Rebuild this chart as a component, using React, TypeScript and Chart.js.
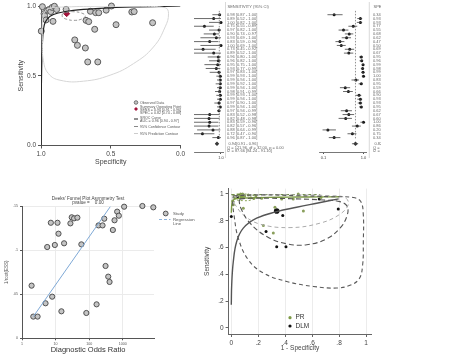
import React, { useEffect, useRef } from "react";
import { Chart, registerables } from "chart.js";
Chart.register(...registerables);

const FONT = "'Liberation Sans', Arial, Helvetica, sans-serif";

// ---------- Panel A : SROC with observed data ----------
const obsSpec = [0.998, 0.99, 0.978, 0.974, 0.964, 0.952, 0.94, 0.93, 0.92, 0.904, 0.888, 0.914, 0.82, 0.646, 0.608, 0.586, 0.533, 0.495, 0.677, 0.658, 0.615, 0.462, 0.349, 0.332, 0.2, 0.758, 0.739, 0.682, 0.665, 0.593];
const obsSens = [0.82, 0.995, 0.945, 0.93, 0.9, 0.97, 0.975, 0.96, 0.99, 0.998, 0.975, 0.89, 0.976, 0.962, 0.952, 0.952, 0.97, 1.0, 0.897, 0.888, 0.833, 0.866, 0.957, 0.96, 0.88, 0.757, 0.718, 0.699, 0.599, 0.599];
const summarySpec = [0.816];
const summarySens = [0.945];
const srocSpec = [1.0, 0.998, 0.995, 0.99, 0.983, 0.969, 0.935, 0.876, 0.768, 0.577, 0.337, 0.0];
const srocSens = [0.0, 0.325, 0.563, 0.73, 0.826, 0.885, 0.926, 0.95, 0.969, 0.983, 0.993, 1.0];
const confSpec = [0.849, 0.816, 0.763, 0.711, 0.682, 0.708, 0.763, 0.816, 0.845, 0.849];
const confSens = [0.94, 0.955, 0.959, 0.95, 0.931, 0.907, 0.897, 0.905, 0.921, 0.94];
const predSpec = [0.983, 0.947, 0.816, 0.577, 0.289, 0.11, 0.086, 0.11, 0.194, 0.337, 0.505, 0.696, 0.864, 0.947, 0.983, 0.99, 0.99, 0.983];
const predSens = [0.945, 0.981, 0.993, 0.998, 0.998, 0.988, 0.945, 0.85, 0.706, 0.587, 0.504, 0.461, 0.468, 0.516, 0.611, 0.754, 0.874, 0.945];
const srocTicks = [0, 0.5, 1];
const srocLegendText = ["Observed Data", "Summary Operating Point", "SENS = 0.94 [0.91 - 0.96]", "SPEC = 0.82 [0.74 - 0.88]", "SROC Curve", "AUC = 0.96 [0.94 - 0.97]", "95% Confidence Contour", "95% Prediction Contour"];

// ---------- Panels B/C : forest plots ----------
const sensEst = [0.98, 0.89, 1.0, 0.75, 0.97, 0.9, 0.93, 0.83, 1.0, 0.73, 0.89, 0.96, 0.96, 0.95, 0.93, 0.97, 0.99, 0.99, 0.99, 0.99, 0.98, 0.99, 0.99, 0.97, 0.99, 0.97, 0.83, 0.82, 0.83, 0.82, 0.88, 0.72, 0.96];
const sensLow = [0.87, 0.52, 0.82, 0.55, 0.82, 0.74, 0.69, 0.59, 0.69, 0.45, 0.52, 0.8, 0.82, 0.75, 0.77, 0.83, 0.93, 0.94, 0.92, 0.94, 0.91, 0.93, 0.94, 0.9, 0.94, 0.94, 0.52, 0.48, 0.59, 0.57, 0.64, 0.47, 0.87];
const sensHigh = [1.0, 1.0, 1.0, 0.89, 1.0, 0.97, 1.0, 0.96, 1.0, 0.92, 1.0, 1.0, 1.0, 1.0, 0.99, 1.0, 1.0, 1.0, 1.0, 1.0, 0.99, 1.0, 1.0, 1.0, 1.0, 0.99, 0.98, 0.98, 0.96, 0.96, 0.99, 0.9, 1.0];
const sensPooled = [0.94, 0.91, 0.96];
const sensRef = [0.975];
const sensTicks = [1.0];
const sensHeader = "SENSITIVITY (95% CI)";
const sensFooter = ["0.94[0.91 - 0.96]", "Q = 121.96, df = 32.00, p = 0.00", "I2 = 87.66 [84.24 - 91.10]"];

const specEst = [0.34, 0.93, 0.93, 0.77, 0.55, 0.68, 0.62, 0.47, 0.5, 0.69, 0.67, 0.95, 0.96, 0.99, 0.98, 0.99, 1.0, 0.83, 0.95, 0.59, 0.66, 0.9, 0.93, 0.93, 0.95, 0.62, 0.67, 0.6, 1.0, 0.86, 0.2, 0.75, 0.34];
const specLow = [0.19, 0.86, 0.85, 0.66, 0.44, 0.58, 0.51, 0.37, 0.4, 0.58, 0.56, 0.9, 0.91, 0.96, 0.94, 0.95, 0.96, 0.73, 0.89, 0.47, 0.54, 0.83, 0.86, 0.87, 0.9, 0.49, 0.53, 0.44, 0.93, 0.74, 0.08, 0.64, 0.22];
const specHigh = [0.53, 0.97, 0.97, 0.86, 0.66, 0.77, 0.72, 0.57, 0.6, 0.79, 0.77, 0.98, 0.99, 1.0, 1.0, 1.0, 1.0, 0.9, 0.98, 0.7, 0.76, 0.95, 0.97, 0.97, 0.98, 0.74, 0.79, 0.74, 1.0, 0.94, 0.38, 0.84, 0.48];
const specPooled = [0.82, 0.74, 0.88];
const specRef = [0.82];
const specTicks = [0.1, 1.0];
const specHeader = "SPECIFICITY (95% CI)";
const specFooter = ["0.82[0.74 - 0.88]", "Q = 301.25, df = 32.00, p = 0.00", "I2 = 89.38 [86.80 - 91.96]"];

// ---------- Panel D : Deeks funnel plot ----------
const deeksDor = [1.93, 2.17, 2.91, 5.02, 7.91, 14.9, 82.2, 166, 5.63, 7.22, 11.4, 9.49, 12.2, 17.9, 27.6, 30.2, 35.5, 44.5, 58.5, 190, 250, 281, 307, 369, 404, 507, 568, 681, 763, 1097, 3830, 8110];
const deeksEss = [0.0597, 0.0246, 0.0246, 0.0397, 0.0472, 0.0306, 0.0287, 0.0385, 0.1035, 0.131, 0.131, 0.1058, 0.1186, 0.1077, 0.1303, 0.1372, 0.136, 0.1368, 0.1065, 0.128, 0.128, 0.1356, 0.082, 0.0699, 0.0639, 0.1228, 0.1338, 0.1436, 0.139, 0.1492, 0.15, 0.1485];
const deeksRegDor = [2.17, 423];
const deeksRegEss = [0.0246, 0.1492];
const deeksXTicks = [1, 10, 100, 1000];
const deeksYTicks = [0, 0.05, 0.1, 0.15];
const deeksYLabels = ["0", ".05", ".1", ".15"];

// ---------- Panel E : PR vs DLM SROC ----------
const dlmCurveFpr = [0.0, 0.003, 0.015, 0.04, 0.089, 0.188, 0.337, 0.485, 0.634, 0.797];
const dlmCurveSens = [0.174, 0.323, 0.496, 0.645, 0.745, 0.819, 0.868, 0.901, 0.931, 0.963];
const prCurveFpr = [0.0, 0.005, 0.015, 0.04, 0.1, 0.2, 0.35, 0.5, 0.65, 0.8];
const prCurveSens = [0.86, 0.93, 0.955, 0.965, 0.97, 0.973, 0.975, 0.977, 0.978, 0.979];
const prTopFpr = [0.0, 0.66];
const prTopSens = [0.995, 0.995];
const prConfFpr = [0.01, 0.05, 0.1, 0.16, 0.19, 0.15, 0.09, 0.03, 0.01];
const prConfSens = [0.99, 1.0, 1.0, 0.99, 0.975, 0.955, 0.95, 0.96, 0.99];
const prPredFpr = [0.02, 0.089, 0.213, 0.436, 0.658, 0.807, 0.869, 0.844, 0.733, 0.486, 0.189, 0.04, 0.02];
const prPredSens = [0.931, 0.844, 0.775, 0.749, 0.782, 0.849, 0.923, 0.973, 0.987, 0.993, 0.993, 0.98, 0.931];
const dlmConfFpr = [0.065, 0.139, 0.287, 0.486, 0.683, 0.807, 0.861, 0.857, 0.807, 0.708, 0.56, 0.411, 0.263, 0.139, 0.077, 0.059, 0.065];
const dlmConfSens = [0.963, 0.968, 0.968, 0.963, 0.955, 0.943, 0.906, 0.831, 0.745, 0.665, 0.621, 0.628, 0.682, 0.782, 0.881, 0.943, 0.963];
const dlmPredFpr = [0.015, 0.238, 0.486, 0.733, 0.906, 0.961, 0.98, 0.98, 0.975, 0.95, 0.881, 0.782, 0.609, 0.411, 0.238, 0.126, 0.052, 0.02, 0.01, 0.015];
const dlmPredSens = [0.987, 0.993, 0.987, 0.98, 0.973, 0.943, 0.844, 0.645, 0.472, 0.368, 0.318, 0.298, 0.31, 0.347, 0.41, 0.509, 0.67, 0.844, 0.943, 0.987];
const dlmPtFpr = [0.0, 0.047, 0.258, 0.337, 0.406, 0.382, 0.653, 0.794];
const dlmPtSens = [0.831, 0.98, 0.72, 0.606, 0.606, 0.839, 0.963, 0.888];
const dlmSumFpr = [0.337];
const dlmSumSens = [0.873];
const prPtFpr = [0.535, 0.238, 0.312, 0.324, 0.089, 0.666, 0.497, 0.374, 0.46, 0.01, 0.027, 0.052, 0.069, 0.084, 0.1, 0.126, 0.144, 0.168, 0.183, 0.225, 0.015];
const prPtSens = [0.873, 0.764, 0.708, 0.901, 0.894, 0.973, 1.0, 0.963, 0.963, 0.947, 0.972, 0.992, 1.0, 1.0, 0.985, 0.992, 0.972, 0.968, 0.987, 0.968, 0.92];
const prSumFpr = [0.08];
const prSumSens = [0.985];
const rocTicks = [0, 0.2, 0.4, 0.6, 0.8, 1];
const rocTickLabels = ["0", ".2", ".4", ".6", ".8", "1"];

const pts = (xs: number[], ys: number[]) => xs.map((x, i) => ({ x, y: ys[i] }));
const setTicks = (vals: number[]) => (s: any) => {
  s.ticks = vals.map((v) => ({ value: v }));
};

const base: any = {
  responsive: false,
  animation: false,
  devicePixelRatio: 1,
  events: [],
  plugins: { legend: { display: false }, tooltip: { enabled: false }, title: { display: false } },
};

function srocConfig(): any {
  const f = (size: number) => ({ family: FONT, size });
  const legendPlugin = {
    id: "srocLegend",
    afterDraw(chart: any) {
      const ctx = chart.ctx;
      ctx.save();
      const mx = 136, tx = 140;
      ctx.font = `3.6px ${FONT}`;
      ctx.textBaseline = "middle";
      ctx.beginPath();
      ctx.arc(mx, 102.5, 1.8, 0, Math.PI * 2);
      ctx.fillStyle = "#c4c4c4";
      ctx.fill();
      ctx.strokeStyle = "#5a5a5a";
      ctx.lineWidth = 0.8;
      ctx.stroke();
      ctx.fillStyle = "#a3143c";
      ctx.beginPath();
      ctx.moveTo(mx, 107);
      ctx.lineTo(mx + 2, 109);
      ctx.lineTo(mx, 111);
      ctx.lineTo(mx - 2, 109);
      ctx.closePath();
      ctx.fill();
      ctx.strokeStyle = "#222";
      ctx.lineWidth = 1;
      ctx.beginPath();
      ctx.moveTo(mx - 2, 119);
      ctx.lineTo(mx + 2, 119);
      ctx.stroke();
      ctx.strokeStyle = "#888";
      ctx.beginPath();
      ctx.moveTo(mx - 2, 126.5);
      ctx.lineTo(mx + 2, 126.5);
      ctx.stroke();
      ctx.strokeStyle = "#ccc";
      ctx.beginPath();
      ctx.moveTo(mx - 2, 133.5);
      ctx.lineTo(mx + 2, 133.5);
      ctx.stroke();
      ctx.fillStyle = "#555";
      const ys = [102.5, 107, 110, 113, 117.5, 120.5, 126.5, 133.5];
      srocLegendText.forEach((t, i) => ctx.fillText(t, tx, ys[i]));
      ctx.restore();
    },
  };
  return {
    type: "scatter",
    data: {
      datasets: [
        { type: "line", data: pts(predSpec, predSens), borderColor: "#d6d6d6", borderWidth: 1, pointRadius: 0, tension: 0.45, fill: false },
        { type: "line", data: pts(confSpec, confSens), borderColor: "#8a8a8a", borderWidth: 0.9, borderDash: [3, 2], pointRadius: 0, tension: 0.45, fill: false },
        { type: "line", data: pts(srocSpec, srocSens), borderColor: "#222", borderWidth: 1.2, pointRadius: 0, tension: 0.4, fill: false },
        { data: pts(obsSpec, obsSens), pointRadius: 3, backgroundColor: "#c4c4c4", borderColor: "#5a5a5a", borderWidth: 1, clip: false },
        { data: pts(summarySpec, summarySens), pointStyle: "rectRot", pointRadius: 3, backgroundColor: "#a3143c", borderColor: "#a3143c" },
      ],
    },
    options: {
      ...base,
      layout: { padding: { left: 12.5, right: 9.5, top: 6, bottom: 0 } },
      scales: {
        x: {
          type: "linear", reverse: true, min: 0, max: 1,
          afterBuildTicks: setTicks(srocTicks),
          ticks: { callback: (v: any) => Number(v).toFixed(1), font: f(6.5), color: "#444", padding: 2, maxRotation: 0 },
          grid: { drawOnChartArea: false, tickLength: 3, color: "#555" },
          border: { color: "#555" },
          title: { display: true, text: "Specificity", font: f(7), color: "#444", padding: { top: 0, bottom: 2.1 } },
          afterFit: (s: any) => { s.height = 22.5; },
        },
        y: {
          type: "linear", min: 0, max: 1,
          afterBuildTicks: setTicks(srocTicks),
          ticks: { callback: (v: any) => Number(v).toFixed(1), font: f(6.5), color: "#444", padding: 2 },
          grid: { drawOnChartArea: false, tickLength: 3, color: "#555" },
          border: { color: "#555" },
          title: { display: true, text: "Sensitivity", font: f(7), color: "#444", padding: { top: 4, bottom: 0 } },
          afterFit: (s: any) => { s.width = 28.5; },
        },
      },
    },
    plugins: [legendPlugin],
  };
}

const SUM_ROW = 33.6;
function forestConfig(p: any): any {
  const ci: any[] = [];
  p.est.forEach((_: number, i: number) => {
    ci.push({ x: p.low[i], y: i }, { x: p.high[i], y: i }, { x: NaN, y: NaN });
  });
  ci.push({ x: p.pooled[1], y: SUM_ROW }, { x: p.pooled[2], y: SUM_ROW });
  const textPlugin = {
    id: "forestText",
    afterDraw(chart: any) {
      const ctx = chart.ctx;
      const ys = chart.scales.y;
      ctx.save();
      ctx.strokeStyle = "#cfcfcf";
      ctx.lineWidth = 0.8;
      ctx.beginPath();
      ctx.moveTo(p.sepX, 2);
      ctx.lineTo(p.sepX, 158);
      ctx.stroke();
      ctx.font = `4px ${FONT}`;
      ctx.fillStyle = "#666";
      ctx.textBaseline = "middle";
      ctx.textAlign = "left";
      ctx.fillText(p.header, p.textX + 0.5, ys.getPixelForValue(-2.1));
      p.est.forEach((v: number, i: number) => {
        const t = `${v.toFixed(2)} [${p.low[i].toFixed(2)} - ${p.high[i].toFixed(2)}]`;
        ctx.fillText(t, p.textX, ys.getPixelForValue(i));
      });
      ctx.fillText(p.footer[0], p.textX + 1.5, ys.getPixelForValue(SUM_ROW));
      ctx.fillText(p.footer[1], p.textX, ys.getPixelForValue(SUM_ROW + 0.95));
      ctx.fillText(p.footer[2], p.textX, ys.getPixelForValue(SUM_ROW + 1.75));
      ctx.restore();
    },
  };
  return {
    type: "scatter",
    data: {
      datasets: [
        { type: "line", data: [{ x: p.ref[0], y: -1 }, { x: p.ref[0], y: 32.6 }], borderColor: "#777", borderWidth: 0.8, borderDash: [1.5, 1.5], pointRadius: 0, fill: false },
        { type: "line", data: ci, borderColor: "#444", borderWidth: 0.8, pointRadius: 0, spanGaps: false, fill: false },
        { data: p.est.map((v: number, i: number) => ({ x: v, y: i })), pointRadius: 1.5, backgroundColor: "#111", borderColor: "#111", borderWidth: 0 },
        { data: [{ x: p.pooled[0], y: SUM_ROW }], pointStyle: "rectRot", pointRadius: 2.2, backgroundColor: "#333", borderColor: "#333", borderWidth: 0 },
      ],
    },
    options: {
      ...base,
      layout: { padding: { left: p.padLeft, right: p.padRight, top: 6, bottom: 0 } },
      scales: {
        x: {
          type: "linear", min: p.min, max: p.max,
          afterBuildTicks: setTicks(p.ticks),
          ticks: { callback: (v: any) => Number(v).toFixed(1), font: { family: FONT, size: 4 }, color: "#444", padding: 1, maxRotation: 0, autoSkip: false },
          grid: { drawOnChartArea: false, tickLength: 2, color: "#555" },
          border: { color: "#555", width: 0.8 },
          afterFit: (s: any) => { s.height = 13; },
        },
        y: { type: "linear", reverse: true, min: -2.27, max: 35.75, display: false },
      },
    },
    plugins: [textPlugin],
  };
}

function deeksConfig(): any {
  const plugin = {
    id: "deeksText",
    afterDraw(chart: any) {
      const ctx = chart.ctx;
      ctx.save();
      ctx.fillStyle = "#444";
      ctx.textBaseline = "middle";
      ctx.textAlign = "center";
      ctx.font = `4.6px ${FONT}`;
      ctx.fillText("Deeks' Funnel Plot Asymmetry Test", 88, 23.3);
      ctx.fillText("pvalue =    0.00", 88, 28.2);
      ctx.textAlign = "left";
      ctx.font = `4.3px ${FONT}`;
      ctx.beginPath();
      ctx.arc(165.7, 38.5, 2.4, 0, Math.PI * 2);
      ctx.fillStyle = "#c4c4c4";
      ctx.fill();
      ctx.strokeStyle = "#505050";
      ctx.lineWidth = 1;
      ctx.stroke();
      ctx.strokeStyle = "#8db3dc";
      ctx.setLineDash([3, 2]);
      ctx.beginPath();
      ctx.moveTo(159, 44.5);
      ctx.lineTo(170.5, 44.5);
      ctx.stroke();
      ctx.fillStyle = "#555";
      ctx.fillText("Study", 173, 38.5);
      ctx.fillText("Regression", 173, 44.5);
      ctx.fillText("Line", 173, 49);
      ctx.restore();
    },
  };
  return {
    type: "scatter",
    data: {
      datasets: [
        { type: "line", data: pts(deeksRegDor, deeksRegEss), borderColor: "#7fa9d6", borderWidth: 1, pointRadius: 0, fill: false },
        { data: pts(deeksDor, deeksEss), pointRadius: 2.6, backgroundColor: "#c4c4c4", borderColor: "#505050", borderWidth: 1, clip: false },
      ],
    },
    options: {
      ...base,
      layout: { padding: { left: 4.3, right: 46, top: 31, bottom: 0 } },
      scales: {
        x: {
          type: "logarithmic", min: 1, max: 8500,
          afterBuildTicks: setTicks(deeksXTicks),
          ticks: { callback: (v: any) => String(v), font: { family: FONT, size: 3.6 }, color: "#555", padding: 2, maxRotation: 0, autoSkip: false },
          grid: { color: "#ebebeb", tickLength: 2, tickColor: "#555" },
          border: { color: "#555" },
          title: { display: true, text: "Diagnostic Odds Ratio", font: { family: FONT, size: 7.5 }, color: "#333", padding: { top: 0, bottom: 0.5 } },
          afterFit: (s: any) => { s.height = 16.7; },
        },
        y: {
          type: "linear", min: 0, max: 0.15,
          afterBuildTicks: setTicks(deeksYTicks),
          ticks: { callback: (v: any, i: number) => deeksYLabels[i], font: { family: FONT, size: 3.6 }, color: "#555", padding: 2 },
          grid: { color: "#ebebeb", tickLength: 2, tickColor: "#555" },
          border: { color: "#555" },
          title: { display: true, text: "1/root(ESS)", font: { family: FONT, size: 4.5 }, color: "#555", padding: { top: 0, bottom: 0 } },
          afterFit: (s: any) => { s.width = 17.7; },
        },
      },
    },
    plugins: [plugin],
  };
}

function rocConfig(): any {
  const olive = "#7d9a45";
  const plugin = {
    id: "rocLegend",
    afterDraw(chart: any) {
      const ctx = chart.ctx;
      ctx.save();
      ctx.font = `6.5px ${FONT}`;
      ctx.textBaseline = "middle";
      ctx.fillStyle = olive;
      ctx.beginPath();
      ctx.arc(95, 137.7, 1.6, 0, Math.PI * 2);
      ctx.fill();
      ctx.fillStyle = "#111";
      ctx.beginPath();
      ctx.arc(95, 146, 1.6, 0, Math.PI * 2);
      ctx.fill();
      ctx.fillStyle = "#333";
      ctx.fillText("PR", 100.5, 137.7);
      ctx.fillText("DLM", 100.5, 146);
      ctx.restore();
    },
  };
  const loop = (xs: number[], ys: number[], color: string, dash: number[], w = 1) => ({
    type: "line", data: pts(xs, ys), borderColor: color, borderWidth: w, borderDash: dash, pointRadius: 0, tension: 0.4, fill: false, clip: false,
  });
  return {
    type: "scatter",
    data: {
      datasets: [
        loop(dlmPredFpr, dlmPredSens, "#5a5a5a", [4, 3], 1.1),
        loop(dlmConfFpr, dlmConfSens, "#555", [5, 3], 1.1),
        loop(prPredFpr, prPredSens, "#ababab", [4, 3], 1),
        loop(prConfFpr, prConfSens, olive, [2, 2], 0.9),
        loop(prTopFpr, prTopSens, "#5f7d35", [3, 2.5], 1),
        { type: "line", data: pts(dlmCurveFpr, dlmCurveSens), borderColor: "#555", borderWidth: 1.4, pointRadius: 0, tension: 0.4, fill: false },
        { type: "line", data: pts(prCurveFpr, prCurveSens), borderColor: olive, borderWidth: 1.4, pointRadius: 0, tension: 0.4, fill: false },
        { data: pts(prPtFpr, prPtSens), pointRadius: 1.5, backgroundColor: "#8a9f5c", borderWidth: 0, clip: false },
        { data: pts(dlmPtFpr, dlmPtSens), pointRadius: 1.5, backgroundColor: "#111", borderWidth: 0, clip: false },
        { data: pts(prSumFpr, prSumSens), pointRadius: 2.8, backgroundColor: olive, borderWidth: 0, clip: false },
        { data: pts(dlmSumFpr, dlmSumSens), pointRadius: 2.8, backgroundColor: "#111", borderWidth: 0, clip: false },
      ],
    },
    options: {
      ...base,
      layout: { padding: { left: 6.8, right: 102.6, top: 8.6, bottom: 0 } },
      scales: {
        x: {
          type: "linear", min: -0.02, max: 1.04,
          afterBuildTicks: setTicks(rocTicks),
          ticks: { callback: (v: any, i: number) => rocTickLabels[i], font: { family: FONT, size: 6.5 }, color: "#444", padding: 2, maxRotation: 0, autoSkip: false },
          grid: { color: "#ececec", tickLength: 3, tickColor: "#666" },
          border: { color: "#666" },
          title: { display: true, text: "1 - Specificity", font: { family: FONT, size: 6.5 }, color: "#444", padding: { top: 0, bottom: 2.6 } },
          afterFit: (s: any) => { s.height = 21; },
        },
        y: {
          type: "linear", min: -0.045, max: 1.04,
          afterBuildTicks: setTicks(rocTicks),
          ticks: { callback: (v: any, i: number) => rocTickLabels[i], font: { family: FONT, size: 6.5 }, color: "#444", padding: 2, autoSkip: false },
          grid: { drawOnChartArea: false, tickLength: 3, color: "#666" },
          border: { color: "#666" },
          title: { display: true, text: "Sensitivity", font: { family: FONT, size: 6.5 }, color: "#444", padding: { top: 2, bottom: 0 } },
          afterFit: (s: any) => { s.width = 26.8; },
        },
      },
    },
    plugins: [plugin],
  };
}

export default function App() {
  const rA = useRef<HTMLCanvasElement>(null);
  const rB = useRef<HTMLCanvasElement>(null);
  const rC = useRef<HTMLCanvasElement>(null);
  const rD = useRef<HTMLCanvasElement>(null);
  const rE = useRef<HTMLCanvasElement>(null);

  useEffect(() => {
    const charts: Chart[] = [];
    charts.push(new Chart(rA.current as HTMLCanvasElement, srocConfig()));
    charts.push(
      new Chart(
        rB.current as HTMLCanvasElement,
        forestConfig({
          est: sensEst, low: sensLow, high: sensHigh, pooled: sensPooled, ref: sensRef, ticks: sensTicks,
          header: sensHeader, footer: sensFooter, min: 0.593, max: 1.038, padLeft: 3, padRight: 91.5, textX: 37, sepX: 35.5,
        })
      )
    );
    charts.push(
      new Chart(
        rC.current as HTMLCanvasElement,
        forestConfig({
          est: specEst, low: specLow, high: specHigh, pooled: specPooled, ref: specRef, ticks: specTicks,
          header: specHeader, footer: specFooter, min: 0, max: 1.056, padLeft: 1.2, padRight: 15, textX: 58, sepX: 54.3,
        })
      )
    );
    charts.push(new Chart(rD.current as HTMLCanvasElement, deeksConfig()));
    charts.push(new Chart(rE.current as HTMLCanvasElement, rocConfig()));
    return () => charts.forEach((c) => c.destroy());
  }, []);

  const cs = (l: number, t: number, w: number, h: number): React.CSSProperties => ({
    position: "absolute", left: l, top: t, width: w, height: h, display: "block",
  });

  return (
    <div style={{ position: "fixed", left: 0, top: 0, width: 474, height: 355, background: "#fff", overflow: "hidden" }}>
      <canvas ref={rA} width={190} height={168} style={cs(0, 0, 190, 168)} />
      <canvas ref={rB} width={125} height={165} style={cs(190, 0, 125, 165)} />
      <canvas ref={rC} width={66} height={165} style={cs(315, 0, 66, 165)} />
      <canvas ref={rD} width={200} height={180} style={cs(0, 175, 200, 180)} />
      <canvas ref={rE} width={279} height={175} style={cs(195, 180, 279, 175)} />
    </div>
  );
}
